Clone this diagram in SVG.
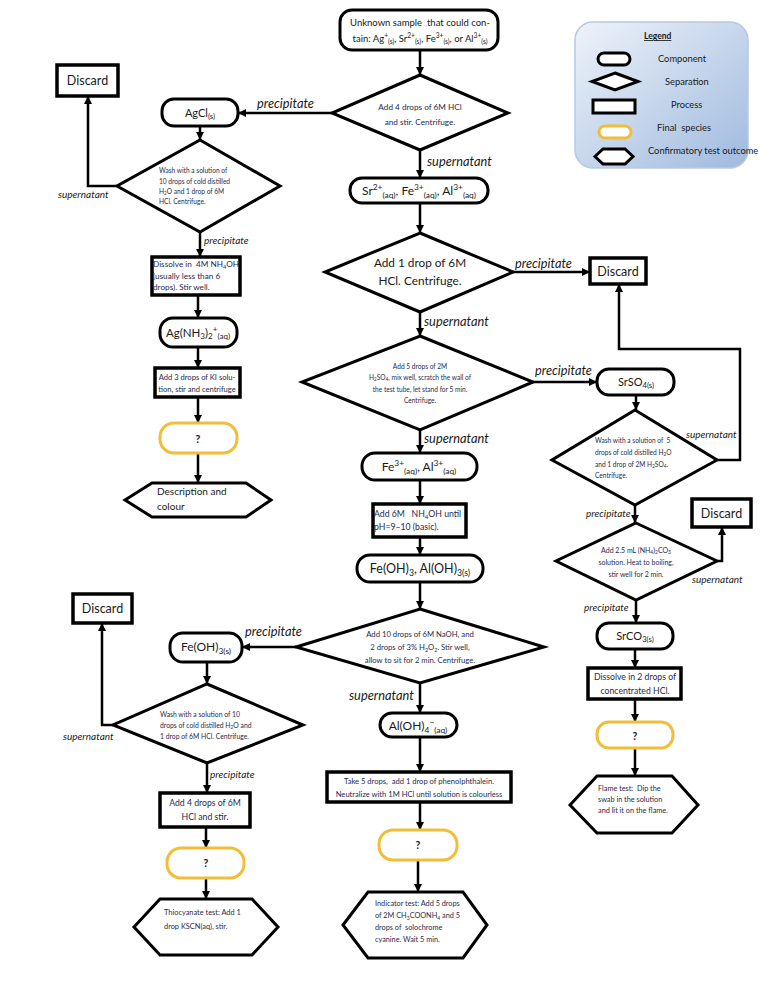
<svg xmlns="http://www.w3.org/2000/svg" width="782" height="996" viewBox="0 0 782 996">
<style>
text{font-family:Lato,"Liberation Sans",sans-serif;fill:#1a1a1a}
.n{fill:#fff;stroke:#000;stroke-width:3}
.p{fill:#fff;stroke:#000;stroke-width:3.5}
.y{fill:#fff;stroke:#F2BE3A;stroke-width:3}
.c{fill:none;stroke:#000;stroke-width:2.5;marker-end:url(#ah)}
.sm{fill:#1f2b4d}
.i{font-style:italic}
.L{font-size:12.8px}
.S{font-size:10px}
.sub{font-size:70%;baseline-shift:-0.3em}
.sup{font-size:70%;baseline-shift:0.6em}
.mid{text-anchor:middle}
</style>
<defs>
<marker id="ah" viewBox="0 0 10 10" refX="10" refY="5" markerWidth="8" markerHeight="8" markerUnits="userSpaceOnUse" orient="auto"><path d="M0,0 L10,5 L0,10 z" fill="#000"/></marker>
<linearGradient id="lg" x1="0" y1="0" x2="1" y2="1"><stop offset="0" stop-color="#eef3fa"/><stop offset="1" stop-color="#9fbade"/></linearGradient>
</defs>

<g id="connectors">
<path class="c" d="M420,50 V75"/>
<path class="c" d="M332,113 H238"/>
<path class="c" d="M200,126 V140"/>
<path class="c" d="M117,186 H88 V96"/>
<path class="c" d="M200,232 V257"/>
<path class="c" d="M198,295 V318"/>
<path class="c" d="M198,347 V368"/>
<path class="c" d="M198,397 V423"/>
<path class="c" d="M198,453 V483"/>
<path class="c" d="M420,150 V178"/>
<path class="c" d="M420,203 V233"/>
<path class="c" d="M513,272 H590"/>
<path class="c" d="M420,312 V336"/>
<path class="c" d="M533,382 H597"/>
<path class="c" d="M636,395 V410"/>
<path class="c" d="M717,460 H740 V349 H619 V284"/>
<path class="c" d="M635,505 V523"/>
<path class="c" d="M717,561 H722 V527"/>
<path class="c" d="M636,600 V623"/>
<path class="c" d="M635,649 V668"/>
<path class="c" d="M635,699 V722"/>
<path class="c" d="M635,748 V776"/>
<path class="c" d="M420,430 V453"/>
<path class="c" d="M420,480 V504"/>
<path class="c" d="M420,537 V555"/>
<path class="c" d="M420,582 V609"/>
<path class="c" d="M296,647 H242"/>
<path class="c" d="M207,662 V684"/>
<path class="c" d="M113,725 H102 V623"/>
<path class="c" d="M207,763 V793"/>
<path class="c" d="M206,827 V848"/>
<path class="c" d="M206,878 V899"/>
<path class="c" d="M420,683 V713"/>
<path class="c" d="M420,737 V772"/>
<path class="c" d="M420,802 V830"/>
<path class="c" d="M418,860 V892"/>
<text class="i L" x="257" y="108">precipitate</text>
<text class="i S" x="58" y="198">supernatant</text>
<text class="i S" x="204" y="244">precipitate</text>
<text class="i L" x="427" y="166">supernatant</text>
<text class="i L" x="515" y="268">precipitate</text>
<text class="i L" x="424" y="326">supernatant</text>
<text class="i L" x="535" y="375">precipitate</text>
<text class="i S" x="686" y="438">supernatant</text>
<text class="i L" x="424" y="443">supernatant</text>
<text class="i S" x="586" y="517">precipitate</text>
<text class="i S" x="692" y="583">supernatant</text>
<text class="i S" x="584" y="611">precipitate</text>
<text class="i L" x="245" y="636">precipitate</text>
<text class="i L" x="349" y="700">supernatant</text>
<text class="i S" x="63" y="740">supernatant</text>
<text class="i S" x="210" y="778">precipitate</text>
</g>

<g id="start">
<rect class="n" x="340" y="10" width="158" height="40" rx="12"/>
<text class="mid" x="420" y="26" font-size="9.5" xml:space="preserve">Unknown sample  that could con-</text>
<text class="mid" x="420" y="42" font-size="9.5">tain: Ag<tspan class="sup">+</tspan><tspan class="sub">(s)</tspan>, Sr<tspan class="sup">2+</tspan><tspan class="sub">(s)</tspan>, Fe<tspan class="sup">3+</tspan><tspan class="sub">(s)</tspan>, or Al<tspan class="sup">3+</tspan><tspan class="sub">(s)</tspan></text>
</g>

<g id="sep-hcl">
<polygon class="n" points="420,75 508,113 420,150 332,113"/>
<text class="mid sm" x="420" y="110" font-size="8.2">Add 4 drops of 6M HCl</text>
<text class="mid sm" x="420" y="125" font-size="8.2">and stir. Centrifuge.</text>
</g>

<g id="discard1">
<rect class="p" x="57" y="65" width="61" height="31"/>
<text class="mid" x="87.5" y="85" font-size="12.5">Discard</text>
</g>

<g id="agcl">
<rect class="n" x="162" y="99" width="76" height="27" rx="12"/>
<text class="mid" x="200" y="117" font-size="11">AgCl<tspan class="sub">(s)</tspan></text>
</g>

<g id="wash-agcl">
<polygon class="n" points="200,140 280,186 200,232 117,186"/>
<text class="sm" x="159" y="173" font-size="6.6">Wash with a solution of</text>
<text class="sm" x="159" y="184" font-size="6.6">10 drops of cold distilled</text>
<text class="sm" x="159" y="194" font-size="6.6">H<tspan class="sub">2</tspan>O and 1 drop of 6M</text>
<text class="sm" x="159" y="204" font-size="6.6">HCl. Centrifuge.</text>
</g>

<g id="dissolve-nh4oh">
<rect class="p" x="152" y="257" width="88" height="38"/>
<text class="sm" x="153" y="267" font-size="8.2" xml:space="preserve">Dissolve in  4M NH<tspan class="sub">4</tspan>OH</text>
<text class="sm" x="153" y="279" font-size="8.2">(usually less than 6</text>
<text class="sm" x="153" y="290" font-size="8.2">drops). Stir well.</text>
</g>

<g id="agnh3">
<rect class="n" x="160" y="318" width="77" height="29" rx="13"/>
<text class="mid" x="198" y="337" font-size="11.5">Ag(NH<tspan class="sub">3</tspan>)<tspan class="sub">2</tspan><tspan class="sup">+</tspan><tspan class="sub">(aq)</tspan></text>
</g>

<g id="add-ki">
<rect class="p" x="155" y="368" width="85" height="29"/>
<text class="mid sm" x="197" y="380" font-size="7.6">Add 3 drops of KI solu-</text>
<text class="mid sm" x="197" y="392" font-size="7.6">tion, stir and centrifuge</text>
</g>

<g id="final-ag">
<rect class="y" x="160" y="423" width="77" height="30" rx="14"/>
<text class="mid" x="198" y="443" font-size="10.5" font-weight="bold">?</text>
</g>

<g id="test-ag">
<polygon class="n" points="125,500 152,483 246,483 271,500 246,517 152,517"/>
<text x="157" y="495" font-size="10">Description and</text>
<text x="157" y="510" font-size="10">colour</text>
</g>

<g id="sr-fe-al">
<rect class="n" x="350" y="178" width="138" height="25" rx="12"/>
<text class="mid" x="419" y="195" font-size="12">Sr<tspan class="sup">2+</tspan><tspan class="sub">(aq)</tspan>, Fe<tspan class="sup">3+</tspan><tspan class="sub">(aq)</tspan>, Al<tspan class="sup">3+</tspan><tspan class="sub">(aq)</tspan></text>
</g>

<g id="sep-hcl2">
<polygon class="n" points="420,233 513,272 420,312 325,272"/>
<text class="mid" x="420" y="267" font-size="11.8">Add 1 drop of 6M</text>
<text class="mid" x="420" y="285" font-size="11.8">HCl. Centrifuge.</text>
</g>

<g id="discard2">
<rect class="p" x="590" y="258" width="56" height="26"/>
<text class="mid" x="618" y="276" font-size="12.5">Discard</text>
</g>

<g id="sep-h2so4">
<polygon class="n" points="420,336 533,382 420,430 302,382"/>
<text class="mid sm" x="420" y="369" font-size="6.6">Add 5 drops of 2M</text>
<text class="mid sm" x="420" y="380" font-size="6.6">H<tspan class="sub">2</tspan>SO<tspan class="sub">4</tspan>, mix well, scratch the wall of</text>
<text class="mid sm" x="420" y="392" font-size="6.6">the test tube, let stand for 5 min.</text>
<text class="mid sm" x="420" y="403" font-size="6.6">Centrifuge.</text>
</g>

<g id="srso4">
<rect class="n" x="597" y="369" width="77" height="26" rx="12"/>
<text class="mid" x="636" y="386" font-size="11">SrSO<tspan class="sub">4(s)</tspan></text>
</g>

<g id="wash-srso4">
<polygon class="n" points="635,410 717,460 635,505 552,460"/>
<text class="sm" x="595" y="443" font-size="6.6" xml:space="preserve">Wash with a solution of  5</text>
<text class="sm" x="595" y="455" font-size="6.6">drops of cold distilled H<tspan class="sub">2</tspan>O</text>
<text class="sm" x="595" y="467" font-size="6.6">and 1 drop of 2M H<tspan class="sub">2</tspan>SO<tspan class="sub">4</tspan>.</text>
<text class="sm" x="595" y="478" font-size="6.6">Centrifuge.</text>
</g>

<g id="sep-carbonate">
<polygon class="n" points="636,523 717,561 636,600 556,561"/>
<text class="mid sm" x="636" y="553" font-size="7">Add 2.5 mL (NH<tspan class="sub">4</tspan>)<tspan class="sub">2</tspan>CO<tspan class="sub">3</tspan></text>
<text class="mid sm" x="636" y="565" font-size="7">solution. Heat to boiling,</text>
<text class="mid sm" x="636" y="577" font-size="7">stir well for 2 min.</text>
</g>

<g id="discard4">
<rect class="p" x="692" y="499" width="59" height="28"/>
<text class="mid" x="721.5" y="518" font-size="12.5">Discard</text>
</g>

<g id="srco3">
<rect class="n" x="597" y="623" width="76" height="26" rx="12"/>
<text class="mid" x="635" y="640" font-size="11">SrCO<tspan class="sub">3(s)</tspan></text>
</g>

<g id="dissolve-hcl">
<rect class="p" x="588" y="668" width="93" height="31"/>
<text class="mid sm" x="635" y="680" font-size="8.7">Dissolve in 2 drops of</text>
<text class="mid sm" x="635" y="694" font-size="8.7">concentrated HCl.</text>
</g>

<g id="final-sr">
<rect class="y" x="597" y="722" width="76" height="26" rx="12"/>
<text class="mid" x="635" y="740" font-size="10.5" font-weight="bold">?</text>
</g>

<g id="test-sr">
<polygon class="n" points="570,805 597,776 672,776 698,805 672,833 597,833"/>
<text class="sm" x="598" y="791" font-size="7.3" xml:space="preserve">Flame test:  Dip the</text>
<text class="sm" x="598" y="802" font-size="7.3">swab in the solution</text>
<text class="sm" x="598" y="813" font-size="7.3">and lit it on the flame.</text>
</g>

<g id="fe-al">
<rect class="n" x="362" y="453" width="115" height="27" rx="13"/>
<text class="mid" x="419" y="471" font-size="12">Fe<tspan class="sup">3+</tspan><tspan class="sub">(aq)</tspan>, Al<tspan class="sup">3+</tspan><tspan class="sub">(aq)</tspan></text>
</g>

<g id="add-nh4oh">
<rect class="p" x="373" y="504" width="93" height="33"/>
<text class="sm" x="374" y="517" font-size="8.7" xml:space="preserve">Add 6M   NH<tspan class="sub">4</tspan>OH until</text>
<text class="sm" x="374" y="530" font-size="8.7">pH=9–10 (basic).</text>
</g>

<g id="hydroxides">
<rect class="n" x="357" y="555" width="126" height="27" rx="13"/>
<text class="mid" x="420" y="573" font-size="12.5">Fe(OH)<tspan class="sub">3</tspan>, Al(OH)<tspan class="sub">3(s)</tspan></text>
</g>

<g id="sep-naoh">
<polygon class="n" points="420,609 544,647 420,683 296,647"/>
<text class="mid sm" x="420" y="637" font-size="7.7">Add 10 drops of 6M NaOH, and</text>
<text class="mid sm" x="420" y="650" font-size="7.7">2 drops of 3% H<tspan class="sub">2</tspan>O<tspan class="sub">2</tspan>. Stir well,</text>
<text class="mid sm" x="420" y="663" font-size="7.7">allow to sit for 2 min. Centrifuge.</text>
</g>

<g id="feoh3">
<rect class="n" x="170" y="633" width="72" height="29" rx="13"/>
<text class="mid" x="206" y="651" font-size="12">Fe(OH)<tspan class="sub">3(s)</tspan></text>
</g>

<g id="discard3">
<rect class="p" x="73" y="594" width="59" height="29"/>
<text class="mid" x="102.5" y="613" font-size="12.5">Discard</text>
</g>

<g id="wash-feoh3">
<polygon class="n" points="207,684 303,725 207,763 113,725"/>
<text class="sm" x="160" y="717" font-size="6.8">Wash with a solution of 10</text>
<text class="sm" x="160" y="728" font-size="6.8">drops of cold distilled H<tspan class="sub">2</tspan>O and</text>
<text class="sm" x="160" y="739" font-size="6.8">1 drop of 6M HCl. Centrifuge.</text>
</g>

<g id="add-hcl">
<rect class="p" x="160" y="793" width="90" height="34"/>
<text class="mid sm" x="205" y="806" font-size="8.7">Add 4 drops of 6M</text>
<text class="mid sm" x="205" y="820" font-size="8.7">HCl and stir.</text>
</g>

<g id="final-fe">
<rect class="y" x="167" y="848" width="77" height="30" rx="14"/>
<text class="mid" x="206" y="867" font-size="10.5" font-weight="bold">?</text>
</g>

<g id="test-fe">
<polygon class="n" points="134,927 160,899 252,899 278,927 252,955 160,955"/>
<text class="sm" x="164" y="915" font-size="7.4">Thiocyanate test: Add 1</text>
<text class="sm" x="164" y="929" font-size="7.4">drop KSCN(aq), stir.</text>
</g>

<g id="aloh4">
<rect class="n" x="380" y="713" width="77" height="24" rx="12"/>
<text class="mid" x="418" y="730" font-size="12">Al(OH)<tspan class="sub">4</tspan><tspan class="sup">−</tspan><tspan class="sub">(aq)</tspan></text>
</g>

<g id="neutralize">
<rect class="p" x="327" y="772" width="184" height="30"/>
<text class="mid sm" x="419" y="784" font-size="7.6" xml:space="preserve">Take 5 drops,  add 1 drop of phenolphthalein.</text>
<text class="mid sm" x="419" y="797" font-size="7.6">Neutralize with 1M HCl until solution is colourless</text>
</g>

<g id="final-al">
<rect class="y" x="379" y="830" width="78" height="30" rx="14"/>
<text class="mid" x="418" y="849" font-size="10.5" font-weight="bold">?</text>
</g>

<g id="test-al">
<polygon class="n" points="343,925 368,892 463,892 487,925 463,958 368,958"/>
<text class="sm" x="375" y="906" font-size="7.3">Indicator test: Add 5 drops</text>
<text class="sm" x="375" y="918" font-size="7.3">of 2M CH<tspan class="sub">3</tspan>COONH<tspan class="sub">4</tspan> and 5</text>
<text class="sm" x="375" y="930" font-size="7.3" xml:space="preserve">drops of  solochrome</text>
<text class="sm" x="375" y="942" font-size="7.3">cyanine. Wait 5 min.</text>
</g>

<g id="legend">
<rect x="575" y="22" width="173" height="146" rx="18" fill="url(#lg)" stroke="#b7c9e2" stroke-width="1.5"/>
<text x="644" y="39" font-size="8.5" font-weight="bold" text-decoration="underline">Legend</text>
<rect x="598" y="53" width="32" height="12" rx="6" fill="#fff" stroke="#000" stroke-width="3"/>
<text x="658" y="62" font-size="9.3">Component</text>
<polygon points="615,73 638,81.5 615,90 592,81.5" fill="#fff" stroke="#000" stroke-width="3"/>
<text x="665" y="85" font-size="9.3">Separation</text>
<rect x="593" y="100" width="42" height="13" fill="#fff" stroke="#000" stroke-width="3"/>
<text x="671" y="108" font-size="9.3">Process</text>
<rect x="599" y="126" width="32" height="12" rx="6" fill="#fff" stroke="#F2BE3A" stroke-width="3"/>
<text x="657" y="131" font-size="9.3" xml:space="preserve">Final  species</text>
<polygon points="595,156.5 603,149 625,149 633,156.5 625,164 603,164" fill="#fff" stroke="#000" stroke-width="3"/>
<text x="648" y="154" font-size="9.3">Confirmatory test outcome</text>
</g>
</svg>
